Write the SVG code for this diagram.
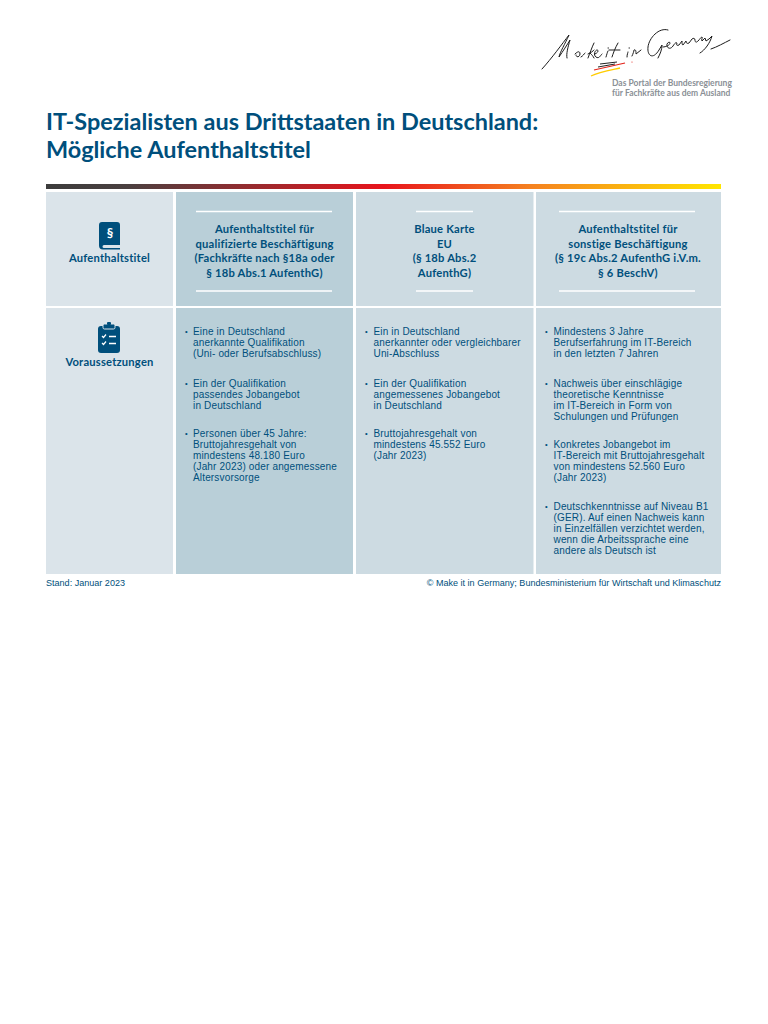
<svg xmlns="http://www.w3.org/2000/svg" width="768" height="1024" viewBox="0 0 768 1024">
<style>
.h{font-family:"Lato","Noto Sans",sans-serif;font-weight:700;fill:#004f7c;font-size:23.45px}
.th{font-family:"Lato","Noto Sans",sans-serif;font-weight:700;fill:#004f7c;font-size:11.2px;text-anchor:middle;letter-spacing:.2px}
.b{font-family:"Liberation Sans",Arial,sans-serif;fill:#004f7c;font-size:10px;letter-spacing:.16px}
.d{font-size:7.5px}
.s{font-family:"Liberation Sans",Arial,sans-serif;fill:#004f7c;font-size:9.05px}
.p{font-family:"Lato","Noto Sans",sans-serif;font-weight:700;fill:#8a9096;font-size:8.5px}
.r{stroke:#fff;stroke-width:1.6;fill:none}
.sig{fill:none;stroke:#1c1c1c;stroke-width:1;stroke-linecap:round;stroke-linejoin:round}
</style>
<defs>
<linearGradient id="g" x1="0" x2="1" y1="0" y2="0">
<stop offset="0" stop-color="#3c3c3c"/><stop offset=".12" stop-color="#4a4040"/><stop offset=".5" stop-color="#e8141c"/><stop offset=".72" stop-color="#f58220"/><stop offset="1" stop-color="#ffe600"/>
</linearGradient>
</defs>
<rect width="768" height="1024" fill="#fff"/>
<g id="logo">
<path class="sig" d="M542 69C552 58 562 44 569 35C565 44 560 52 559 57C563 51 567 45 570 40C568 47 566 54 567 58M575 54c3-3 5-3 5 0s-4 4-4 1M581 57c2-1 3-3 4-4M588 58c2-5 4-11 6-15M588 54c3-1 5-3 6-4M590 53c2 2 3 3 4 5M595 54c3-1 4-4 2-4s-4 5-1 7 4-1 6-3"/>
<path class="sig" d="M606 57c1-3 1-4 2-6M608 48h.5M618 43c-3 5-5 11-6 14M609 50h11"/>
<path class="sig" d="M627 57c0-3 1-4 1-5M629 48h.5M632 56c1-2 2-5 2-6 2-1 2 2 2 4l5-4"/>
<path class="sig" d="M668 30c-9-3-19 8-20 17s5 13 11 3l3-5c0 5-2 9-4 13M663 47c3 0 7-2 7-4s-4 0-3 3 4 3 6 0 3-4 4-3c-1 2 0 3 2 2l3-4c0 2 0 4 1 4l3-4c0 2 1 3 3 2l3-4c1-1 3-1 3 1s1 3 3 1 3-4 4-4-1 3 0 4l3-3 1 3 3-2 3-3c-2 7-7 14-12 17M711 49c6-2 13-6 19-9"/>
<path d="M600 64l17-2M598 67l17-3" stroke="#222" stroke-width="1" fill="none"/>
<path d="M594 70l31-7" stroke="#e2231a" stroke-width="1.1" fill="none"/>
<circle cx="632" cy="62" r=".6" fill="#e2231a"/>
<path d="M591 76c8-4 20-6 29-8" stroke="#ffcc00" stroke-width="1.3" fill="none"/>
<text class="p" x="612" y="86">Das Portal der Bundesregierung</text>
<text class="p" x="612" y="96">für Fachkräfte aus dem Ausland</text>
</g>
<g id="title">
<text class="h" x="46" y="130">IT-Spezialisten aus Drittstaaten in Deutschland:</text>
<text class="h" x="46" y="158">Mögliche Aufenthaltstitel</text>
</g>
<rect id="bar" x="46" y="184" width="675" height="5" fill="url(#g)"/>
<g id="cells">
<rect x="46" y="192" width="127" height="114" fill="#dbe4ea"/>
<rect x="176" y="192" width="177" height="114" fill="#b9cfd8"/>
<rect x="356" y="192" width="177.500" height="114" fill="#cddbe2"/>
<rect x="536" y="192" width="185" height="114" fill="#cddbe2"/>
<rect x="46" y="308" width="127" height="266" fill="#dbe4ea"/>
<rect x="176" y="308" width="177" height="266" fill="#b9cfd8"/>
<rect x="356" y="308" width="177.500" height="266" fill="#cddbe2"/>
<rect x="536" y="308" width="185" height="266" fill="#cddbe2"/>
</g>
<g id="row-title">
<path d="M99 225a3 3 0 0 1 3-3h15a3 3 0 0 1 3 3v20h-16a1.500 1.500 0 0 0 0 3h16v1.500h-17a4 4 0 0 1-4-4z" fill="#004f7c"/>
<text x="110" y="238" font-family="Lato,sans-serif" font-weight="700" font-size="13" fill="#fff" text-anchor="middle">§</text>
<text class="th" x="109.500" y="262">Aufenthaltstitel</text>
</g>
<g id="col-qualified">
<path class="r" d="M196 211.500H332M196 291H332"/>
<text class="th" x="264.500" y="233">Aufenthaltstitel für</text>
<text class="th" x="264.500" y="247.500">qualifizierte Beschäftigung</text>
<text class="th" x="264.500" y="262">(Fachkräfte nach §18a oder</text>
<text class="th" x="264.500" y="277">§ 18b Abs.1 AufenthG)</text>
</g>
<g id="col-blue">
<path class="r" d="M416 211.500H473M416 291H473"/>
<text class="th" x="444.500" y="233">Blaue Karte</text>
<text class="th" x="444.500" y="247.500">EU</text>
<text class="th" x="444.500" y="262">(§ 18b Abs.2</text>
<text class="th" x="444.500" y="277">AufenthG)</text>
</g>
<g id="col-other">
<path class="r" d="M559 211.500H695M559 291H695"/>
<text class="th" x="628" y="233">Aufenthaltstitel für</text>
<text class="th" x="628" y="247.500">sonstige Beschäftigung</text>
<text class="th" x="628" y="262">(§ 19c Abs.2 AufenthG i.V.m.</text>
<text class="th" x="628" y="277">§ 6 BeschV)</text>
</g>
<g id="row-req">
<rect x="98" y="326" width="22" height="27" rx="3" fill="#004f7c"/>
<rect x="103" y="324" width="12" height="5" rx="1.500" fill="#004f7c" stroke="#dbe4ea" stroke-width="1"/>
<rect x="107" y="322" width="4" height="3" rx="1" fill="#004f7c"/>
<path d="M102 336l1.500 1.500 2.500-3M102 343l1.500 1.500 2.500-3" stroke="#fff" stroke-width="1.200" fill="none"/>
<path d="M109 336.500h7M109 343.500h7" stroke="#fff" stroke-width="1.400" fill="none"/>
<text class="th" x="109.500" y="366">Voraussetzungen</text>
</g>
<g id="text-qualified" class="b">
<text class="d" x="185" y="334">•</text>
<text x="193" y="335">Eine in Deutschland</text>
<text x="193" y="346">anerkannte Qualifikation</text>
<text x="193" y="357">(Uni- oder Berufsabschluss)</text>
<text class="d" x="185" y="386">•</text>
<text x="193" y="387">Ein der Qualifikation</text>
<text x="193" y="397.500">passendes Jobangebot</text>
<text x="193" y="408.500">in Deutschland</text>
<text class="d" x="185" y="436">•</text>
<text x="193" y="437">Personen über 45 Jahre:</text>
<text x="193" y="448">Bruttojahresgehalt von</text>
<text x="193" y="459">mindestens 48.180 Euro</text>
<text x="193" y="470">(Jahr 2023) oder angemessene</text>
<text x="193" y="481">Altersvorsorge</text>
</g>
<g id="text-blue" class="b">
<text class="d" x="365" y="334">•</text>
<text x="373.500" y="335">Ein in Deutschland</text>
<text x="373.500" y="346">anerkannter oder vergleichbarer</text>
<text x="373.500" y="357">Uni-Abschluss</text>
<text class="d" x="365" y="386">•</text>
<text x="373.500" y="387">Ein der Qualifikation</text>
<text x="373.500" y="397.500">angemessenes Jobangebot</text>
<text x="373.500" y="408.500">in Deutschland</text>
<text class="d" x="365" y="436">•</text>
<text x="373.500" y="437">Bruttojahresgehalt von</text>
<text x="373.500" y="448">mindestens 45.552 Euro</text>
<text x="373.500" y="459">(Jahr 2023)</text>
</g>
<g id="text-other" class="b">
<text class="d" x="545" y="334">•</text>
<text x="553.500" y="335">Mindestens 3 Jahre</text>
<text x="553.500" y="346">Berufserfahrung im IT-Bereich</text>
<text x="553.500" y="357">in den letzten 7 Jahren</text>
<text class="d" x="545" y="386">•</text>
<text x="553.500" y="387">Nachweis über einschlägige</text>
<text x="553.500" y="398">theoretische Kenntnisse</text>
<text x="553.500" y="409">im IT-Bereich in Form von</text>
<text x="553.500" y="419.500">Schulungen und Prüfungen</text>
<text class="d" x="545" y="447">•</text>
<text x="553.500" y="448">Konkretes Jobangebot im</text>
<text x="553.500" y="459">IT-Bereich mit Bruttojahresgehalt</text>
<text x="553.500" y="470">von mindestens 52.560 Euro</text>
<text x="553.500" y="481">(Jahr 2023)</text>
<text class="d" x="545" y="509">•</text>
<text x="553.500" y="510">Deutschkenntnisse auf Niveau B1</text>
<text x="553.500" y="521">(GER). Auf einen Nachweis kann</text>
<text x="553.500" y="532">in Einzelfällen verzichtet werden,</text>
<text x="553.500" y="543">wenn die Arbeitssprache eine</text>
<text x="553.500" y="554">andere als Deutsch ist</text>
</g>
<g id="footer">
<text class="s" x="46" y="586">Stand: Januar 2023</text>
<text class="s" x="721" y="586" text-anchor="end">© Make it in Germany; Bundesministerium für Wirtschaft und Klimaschutz</text>
</g>
</svg>
